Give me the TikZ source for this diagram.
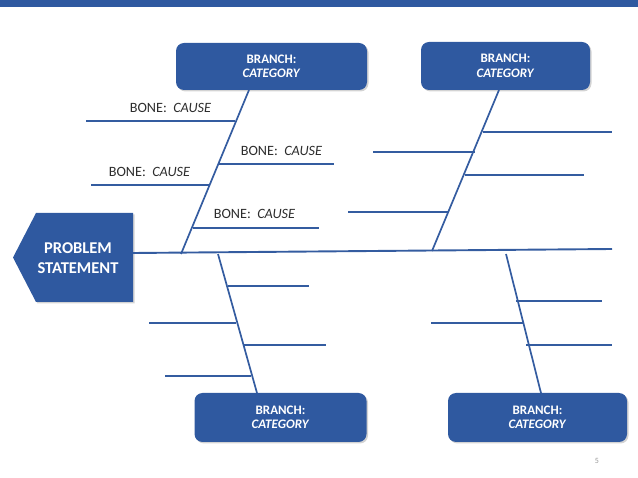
\documentclass[tikz,border=0pt]{standalone}
\usepackage{fontspec}
\setmainfont{Carlito}
\usetikzlibrary{shadows}
\definecolor{fbblue}{RGB}{47,89,160}
\definecolor{fbline}{RGB}{52,92,160}
\definecolor{fbtext}{RGB}{45,45,45}
\tikzset{
  branchbox/.style={fill=fbblue, rounded corners=8pt, text=white, align=center,
    font=\fontsize{13}{14.5}\selectfont\bfseries, inner sep=0pt,
    drop shadow={shadow xshift=1.5pt, shadow yshift=-1.5pt, opacity=0.35}},
  bone/.style={draw=fbline, line width=1.7pt},
  spine/.style={draw=fbline, line width=1.9pt},
  bonelabel/.style={text=fbtext, font=\fontsize{14.2}{16}\selectfont, inner sep=0pt},
}
\begin{document}
\begin{tikzpicture}[x=1pt,y=-1pt]
\useasboundingbox (0,0) rectangle (638,478);
\fill[fbblue] (0,0) rectangle (638,7);
% problem statement
\fill[fbblue, drop shadow={shadow xshift=1.5pt, shadow yshift=-1.5pt, opacity=0.35}]
  (36,213) -- (133,213) -- (133,302) -- (36,302) -- (13,257.5) -- cycle;
\node[text=white, align=center, font=\fontsize{16.5}{20}\selectfont\bfseries, inner sep=0pt] (ps) at (78,258) {PROBLEM\\STATEMENT};
\coordinate (psr) at (133,253);
\coordinate (spineend) at (612,249);
% boxes
\node[branchbox, minimum width=191pt, minimum height=47pt] (tl) at (271.5,66.5) {BRANCH:\\\textit{CATEGORY}};
\node[branchbox, minimum width=169pt, minimum height=48pt] (tr) at (505.5,66) {BRANCH:\\\textit{CATEGORY}};
\node[branchbox, minimum width=172pt, minimum height=49pt] (bl) at (280.5,417.5) {BRANCH:\\\textit{CATEGORY}};
\node[branchbox, minimum width=179pt, minimum height=49pt] (br) at (537.5,417.5) {BRANCH:\\\textit{CATEGORY}};
% spine
\draw[spine] (psr) -- (spineend);
% branch lines
\coordinate (tlt) at (249,90);   \coordinate (tlb) at (181,254);
\coordinate (trt) at (499,90);   \coordinate (trb) at (432,251);
\coordinate (blt) at (218,254);  \coordinate (blb) at (257,393);
\coordinate (brt) at (506,254);  \coordinate (brb) at (541,393);
\draw[bone] (tlt) -- (tlb);
\draw[bone] (trt) -- (trb);
\draw[bone] (blt) -- (blb);
\draw[bone] (brt) -- (brb);
% top-left bones
\coordinate (a1) at (86,121);  \coordinate (a2) at (235,121);
\coordinate (b1) at (219,164); \coordinate (b2) at (334,164);
\coordinate (c1) at (91,185);  \coordinate (c2) at (209,185);
\coordinate (d1) at (193,228); \coordinate (d2) at (319,228);
\draw[bone] (a1) -- (a2);
\draw[bone] (b1) -- (b2);
\draw[bone] (c1) -- (c2);
\draw[bone] (d1) -- (d2);
\node[bonelabel] (la) at (170.5,108) {BONE:\ \ \textit{CAUSE}};
\node[bonelabel] (lb) at (281.5,151) {BONE:\ \ \textit{CAUSE}};
\node[bonelabel] (lc) at (149.5,172) {BONE:\ \ \textit{CAUSE}};
\node[bonelabel] (ld) at (254.5,214) {BONE:\ \ \textit{CAUSE}};
% top-right bones
\coordinate (e1) at (483,132); \coordinate (e2) at (612,132);
\coordinate (f1) at (373,152); \coordinate (f2) at (475,152);
\coordinate (g1) at (465,175); \coordinate (g2) at (584,175);
\coordinate (h1) at (348,212); \coordinate (h2) at (448,212);
\draw[bone] (e1) -- (e2);
\draw[bone] (f1) -- (f2);
\draw[bone] (g1) -- (g2);
\draw[bone] (h1) -- (h2);
% bottom-left bones
\coordinate (i1) at (228,286); \coordinate (i2) at (309,286);
\coordinate (j1) at (149,323); \coordinate (j2) at (236,323);
\coordinate (k1) at (243,345); \coordinate (k2) at (326,345);
\coordinate (l1) at (165,376); \coordinate (l2) at (251,376);
\draw[bone] (i1) -- (i2);
\draw[bone] (j1) -- (j2);
\draw[bone] (k1) -- (k2);
\draw[bone] (l1) -- (l2);
% bottom-right bones
\coordinate (m1) at (516,301); \coordinate (m2) at (602,301);
\coordinate (n1) at (431,323); \coordinate (n2) at (523,323);
\coordinate (o1) at (526,345); \coordinate (o2) at (612,345);
\draw[bone] (m1) -- (m2);
\draw[bone] (n1) -- (n2);
\draw[bone] (o1) -- (o2);
% page number
\node[text=gray!80, font=\fontsize{8}{9}\selectfont, inner sep=0pt] (pg) at (597,461) {5};
\end{tikzpicture}
\end{document}
